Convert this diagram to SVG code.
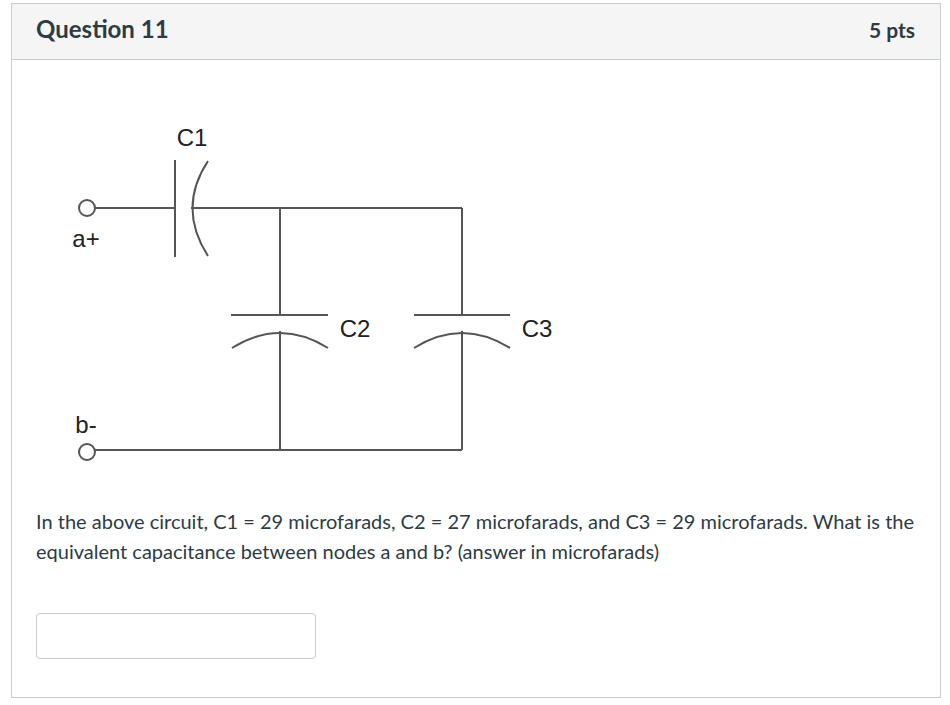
<svg xmlns="http://www.w3.org/2000/svg" width="950" height="705" viewBox="0 0 950 705">
<style>
.w{stroke:#555;stroke-width:2;fill:none}
.lbl{font-family:"Liberation Sans",Arial,sans-serif;font-size:24px;fill:#222}
.t{font-family:Lato,"Liberation Sans",sans-serif;fill:#2d3b45}
</style>
<rect x="0" y="0" width="950" height="705" fill="#fff"/>
<rect x="11.5" y="3.5" width="929" height="694" fill="#fff" stroke="#c7cdd1"/>
<rect x="11.5" y="3.5" width="929" height="56" fill="#f5f5f5" stroke="#c7cdd1"/>
<text class="t" x="36" y="38" font-size="24" font-weight="bold">Question 11</text>
<text class="t" x="915" y="38" font-size="21" font-weight="bold" text-anchor="end">5 pts</text>
<g id="connectors">
<line class="w" x1="94" y1="208" x2="175" y2="208"/>
<line class="w" x1="191" y1="208" x2="462" y2="208"/>
<line class="w" x1="280" y1="208" x2="280" y2="315"/>
<line class="w" x1="280" y1="331" x2="280" y2="450"/>
<line class="w" x1="462" y1="208" x2="462" y2="315"/>
<line class="w" x1="462" y1="331" x2="462" y2="450"/>
<line class="w" x1="94" y1="450" x2="462" y2="450"/>
</g>
<g id="a"><circle class="w" cx="87" cy="208" r="8"/><text class="lbl" x="86" y="247" text-anchor="middle">a+</text></g>
<g id="b"><circle class="w" cx="87" cy="452" r="8"/><text class="lbl" x="86" y="433" text-anchor="middle">b-</text></g>
<g id="C1"><line class="w" x1="175" y1="160" x2="175" y2="257"/><path class="w" d="M208,161 Q177,208 208,256"/><text class="lbl" x="192" y="146" text-anchor="middle">C1</text></g>
<g id="C2"><line class="w" x1="231" y1="315" x2="328" y2="315"/><path class="w" d="M232,348 Q280,318 328,348"/><text class="lbl" x="355" y="337" text-anchor="middle">C2</text></g>
<g id="C3"><line class="w" x1="414" y1="315" x2="510" y2="315"/><path class="w" d="M414,348 Q462,318 510,348"/><text class="lbl" x="537" y="337" text-anchor="middle">C3</text></g>
<text class="t" x="36" y="529" font-size="20">In the above circuit, C1 = 29 microfarads, C2 = 27 microfarads, and C3 = 29 microfarads. What is the</text>
<text class="t" x="36" y="559" font-size="20">equivalent capacitance between nodes a and b? (answer in microfarads)</text>
<rect x="36.5" y="613.5" width="279" height="45" rx="3" fill="#fff" stroke="#c7cdd1"/>
</svg>
